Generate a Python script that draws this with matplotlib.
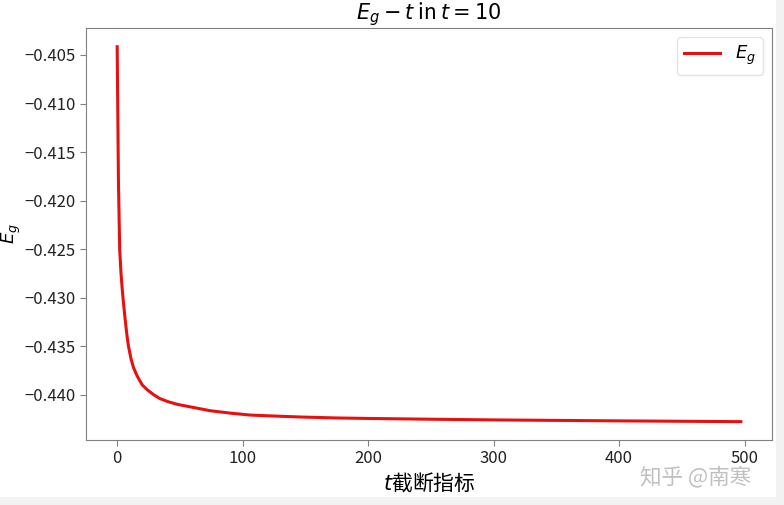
import matplotlib
matplotlib.use('Agg')
import matplotlib.pyplot as plt
from matplotlib.patches import Rectangle

plt.rcParams['font.family'] = ['Noto Sans CJK SC', 'DejaVu Sans']
plt.rcParams['axes.unicode_minus'] = True
plt.rcParams['mathtext.fontset'] = 'dejavusans'

# truncation index t and ground energy E_g
t_vals = [0, 1, 2, 3, 4, 5, 6, 7, 8, 9, 11, 13, 16, 20, 24, 29, 34, 40, 48,
          56, 64, 74, 90, 106, 125, 146, 175, 200, 250, 300, 350, 400, 450, 497]
eg_vals = [-0.40415, -0.4180, -0.4250, -0.4274, -0.4291, -0.4305, -0.4318,
           -0.4330, -0.4341, -0.4350, -0.4363, -0.4372, -0.4381, -0.4390,
           -0.4395, -0.4400, -0.4404, -0.4407, -0.4410, -0.4412, -0.4414,
           -0.44165, -0.4419, -0.4421, -0.4422, -0.4423, -0.4424, -0.44245,
           -0.44253, -0.4426, -0.44265, -0.4427, -0.44274, -0.44278]

fig = plt.figure(figsize=(7.84, 5.05), dpi=100)
# light grey page strip at right and bottom
fig.patches.append(Rectangle((776 / 784, 0), 8 / 784, 1, transform=fig.transFigure,
                             facecolor='#f2f2f2', edgecolor='none', zorder=-1))
fig.patches.append(Rectangle((0, 0), 1, 8 / 505, transform=fig.transFigure,
                             facecolor='#f2f2f2', edgecolor='none', zorder=-1))

ax = fig.add_axes([86 / 784, 1 - 440 / 505, 686 / 784, 412 / 505])
ax.plot(t_vals, eg_vals, color='#e8100f', linewidth=2.2, label='$E_g$')

ax.set_title('$E_g-t$ in $t=10$', fontsize=15, pad=4)
ax.set_xlabel('$t$截断指标', fontsize=15, labelpad=2)
ax.set_ylabel('$E_g$', fontsize=13)
ax.yaxis.set_label_coords(-0.092, 0.5)
ax.set_xlim(-24.85, 521.85)
ax.set_ylim(-0.44467, -0.40222)
ax.set_yticks([-0.405, -0.410, -0.415, -0.420, -0.425, -0.430, -0.435, -0.440])

for s in ax.spines.values():
    s.set_color('#808080')
ax.tick_params(colors='#808080', labelcolor='#222222', labelsize=12, length=4)

leg = ax.legend(loc='upper right', fontsize=13, handlelength=2.0)
leg.get_frame().set_edgecolor('#dddddd')

# watermark
fig.text(640 / 784, 1 - 483 / 505, '知乎 @南寒', fontsize=15.5, color='#c0c0c0',
         va='baseline', ha='left')

fig.savefig('out.png', dpi=100)
